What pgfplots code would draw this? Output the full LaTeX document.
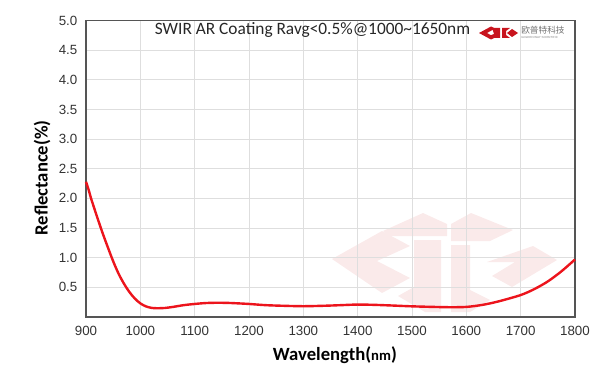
\documentclass[border=0pt]{standalone}
\usepackage{fontspec}
\setmainfont{Liberation Sans}
\newfontfamily\carlito{Carlito}
\newfontfamily\cjk{Noto Sans CJK SC}
\usepackage{pgfplots}
\pgfplotsset{compat=1.18}
\definecolor{curvered}{RGB}{236,20,28}
\definecolor{axisgray}{RGB}{85,85,85}
\definecolor{gridgray}{RGB}{222,222,222}
\definecolor{wmpink}{RGB}{250,234,234}
\definecolor{logored}{RGB}{200,20,30}
\begin{document}
\begin{tikzpicture}
% pixel frame of the reference: axis box lower-left (86,317) is at (0,0)
\begin{scope}[shift={(-64.5pt,237.75pt)}, x=0.75pt, y=-0.75pt]
  \path (0,0) rectangle (616,382);
  \begin{scope}[fill=wmpink]
  \fill (332,259) -- (382,231) -- (410,246) -- (377,261) -- (410,278) -- (382,293) -- cycle;
  \fill (383,231) -- (423,213) -- (447,224) -- (447,236) -- (388,236) -- cycle;
  \fill (414,240) -- (441,240) -- (441,312) -- (425,312) -- (398,296) -- (414,287) -- cycle;
  \fill (451,224) -- (471,213) -- (513,230) -- (490,241) -- (451,241) -- cycle;
  \fill (451,245) -- (470,245) -- (470,290) -- (490,300) -- (470,312) -- (451,312) -- cycle;
  \fill (487,262) -- (533,246) -- (557,260) -- (512,287) -- (492,276) -- (515,262) -- cycle;
  \end{scope}
\end{scope}
\begin{axis}[
  at={(0,0)}, anchor=south west,
  scale only axis,
  width=366.75pt, height=222.4pt,
  xmin=900, xmax=1800, ymin=0, ymax=5,
  xtick={900,1000,...,1800},
  ytick={0.5,1,1.5,2,2.5,3,3.5,4,4.5,5},
  /pgf/number format/1000 sep={},
  /pgf/number format/assume math mode=true,
  yticklabel style={/pgf/number format/fixed, /pgf/number format/fixed zerofill, /pgf/number format/precision=1, xshift=-3pt},
  xticklabel style={yshift=-3pt},
  ticklabel style={font=\fontsize{10}{12}\selectfont, text=black!80},
  major tick length=0pt,
  grid=major,
  grid style={gridgray, line width=0.7pt},
  axis line style={axisgray, line width=1.4pt},
  xlabel={\carlito\bfseries\fontsize{14}{16}\selectfont Wavelength({\fontsize{11}{13}\selectfont nm})},
  ylabel={\carlito\bfseries\fontsize{14}{16}\selectfont Reflectance(\%)},
  xlabel style={at={(rel axis cs:0.509,-0.128)}, anchor=center},
  ylabel style={at={(rel axis cs:-0.09,0.469)}, anchor=center},
  clip=false,
]
\addplot[curvered, line width=1.8pt, smooth, tension=0.5] table {
x y
900 2.28
905 2.14
910 1.98
920 1.70
930 1.43
940 1.18
950 0.94
960 0.73
970 0.56
980 0.42
990 0.31
1000 0.23
1010 0.18
1020 0.155
1030 0.148
1045 0.152
1060 0.17
1080 0.20
1100 0.22
1120 0.235
1140 0.24
1160 0.238
1180 0.23
1200 0.22
1230 0.20
1260 0.19
1300 0.182
1340 0.19
1370 0.20
1400 0.21
1430 0.205
1460 0.195
1500 0.18
1540 0.17
1570 0.165
1600 0.17
1630 0.205
1660 0.265
1700 0.37
1725 0.47
1750 0.60
1775 0.77
1800 0.97
};
\end{axis}
\begin{scope}[shift={(-64.5pt,237.75pt)}, x=0.75pt, y=-0.75pt]
  \node[font=\carlito\fontsize{13}{15}\selectfont, text=black!85] at (312.5,30) {SWIR AR Coating Ravg<0.5\%@1000\textasciitilde 1650nm};
  \begin{scope}[fill=logored]
  \fill (479,33) -- (491,26.5) -- (495,28.5) -- (487,33) -- (495,37.5) -- (491,39.5) -- cycle;
  \fill (492,28) -- (500,28) -- (500,38) -- (494,38) -- (490,35.5) -- (494,34) -- cycle;
  \fill (502,28) -- (510,28) -- (506,31) -- (506,35) -- (510,38) -- (502,38) -- cycle;
  \fill (507,33) -- (512,29) -- (518,33) -- (512,37) -- cycle;
  \end{scope}
  \node[font=\cjk\fontsize{6.5}{7}\selectfont, text=black!55, anchor=west, inner sep=0pt] at (521,30.5) {欧普特科技};
  \node[font=\fontsize{2.2}{2.5}\selectfont, text=black!50, anchor=west, inner sep=0pt] at (521,37) {GOLDEN WAY SCIENTIFIC};
\end{scope}
\end{tikzpicture}
\end{document}
